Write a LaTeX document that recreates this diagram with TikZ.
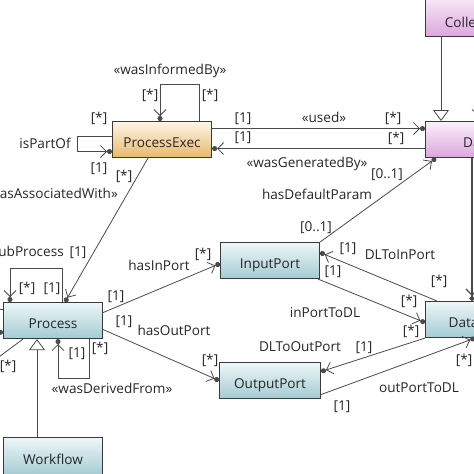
\documentclass[tikz,border=0pt]{standalone}
\usepackage{fontspec}
\setmainfont{Open Sans}
\usetikzlibrary{arrows.meta}

\definecolor{lineg}{HTML}{4A4A4A}
\definecolor{boxline}{HTML}{3A3A3A}
\definecolor{txt}{HTML}{262626}
\definecolor{execTop}{HTML}{FFF6E6}
\definecolor{execBot}{HTML}{E6B86E}
\definecolor{tealTop}{HTML}{EEF7F8}
\definecolor{tealBot}{HTML}{A3CBD3}
\definecolor{vioTop}{HTML}{FBF0FB}
\definecolor{vioBot}{HTML}{DCA6DC}

\begin{document}
\begin{tikzpicture}[x=1pt, y=-1pt,
    font=\fontsize{13.6}{16}\selectfont,
    box/.style={draw=boxline, line width=1.1pt, rectangle, anchor=north west,
      minimum width=99pt, minimum height=36pt, inner sep=0pt, text=txt,
      text height=15pt, text depth=0pt},
    execbox/.style={box, top color=execTop, bottom color=execBot},
    tealbox/.style={box, top color=tealTop, bottom color=tealBot},
    violetbox/.style={box, top color=vioTop, bottom color=vioBot},
    assoc/.style={draw=lineg, line width=0.8pt},
    own/.style={assoc, -{Straight Barb[length=6pt,width=12pt]Circle[length=5pt]}},
    gen/.style={assoc, -{Triangle[length=11pt,width=16pt,fill=white]}},
    lbl/.style={text=txt, inner sep=0pt, text height=9pt, text depth=0pt}]
  \useasboundingbox (0,0) rectangle (474,474);
  \clip (0,0) rectangle (474,474);

  % --- CLASSES ---
  \node[execbox] (pexec) at (112,121) {ProcessExec};
  \node[tealbox] (proc) at (3,302) {Process};
  \node[tealbox, minimum height=38pt] (wflow) at (3,437) {Workflow};
  \node[tealbox] (inport) at (220,242) {InputPort};
  \node[tealbox, minimum width=101pt] (outport) at (219,362) {OutputPort};
  \node[tealbox, minimum width=102pt] (dlink) at (425,301) {DataLink};
  \node[violetbox, minimum width=105pt] (data) at (425,121) {Data};
  \node[violetbox, minimum width=101pt, minimum height=43pt, text height=24pt] (coll) at (425,-7) {Collection};

  % --- ProcessExec relations ---
  \draw[own] ([xshift=87pt]pexec.north west) -- ++(0,-37) -| ([xshift=48pt]pexec.north west);
  \draw[own] ([yshift=3pt]pexec.west) -- ++(-35,0) |- ([yshift=-12pt]pexec.west);
  \draw[own] ([yshift=11pt]pexec.east) -- ([yshift=11pt]data.west);
  \draw[own] ([yshift=-9pt]data.west) -- ([yshift=-9pt]pexec.east);
  \draw[own] ([xshift=36pt]pexec.south west) -- ([xshift=62pt]proc.north west);

  \node[lbl] (tInf) at (170,70) {«wasInformedBy»};
  \node[lbl] (mInfA) at (150,95) {[*]};
  \node[lbl] (mInfB) at (210,95) {[*]};
  \node[lbl] (tPart) at (45,144) {isPartOf};
  \node[lbl] (mPartA) at (99,118) {[*]};
  \node[lbl] (mPartB) at (99,168) {[1]};
  \node[lbl] (tUsed) at (324,118) {«used»};
  \node[lbl] (mUsedA) at (243,118) {[1]};
  \node[lbl] (mUsedB) at (393,118) {[*]};
  \node[lbl] (tGen) at (307,163) {«wasGeneratedBy»};
  \node[lbl] (mGenA) at (243,137) {[1]};
  \node[lbl] (mGenB) at (396,138) {[*]};
  \node[lbl, anchor=east] (tAssoc) at (118,194) {«wasAssociatedWith»};
  \node[lbl] (mAssocA) at (124,176) {[*]};
  \node[lbl] (mAssocB) at (78,252) {[1]};

  % --- Process relations ---
  \draw[own] ([xshift=59pt]proc.north west) -- ++(0,-34) -| ([xshift=7pt]proc.north west);
  \draw[own] ([xshift=86pt]proc.south west) -- ++(0,39) -| ([xshift=55pt]proc.south west);
  \draw[gen] ([xshift=34pt]wflow.north west) -- ([xshift=34pt]proc.south west);
  \draw[own] ([yshift=8pt]proc.east) -- ([yshift=-3pt]inport.west);
  \draw[own] ([yshift=-9pt]proc.east) -- (outport.west);
  % off the left edge
  \coordinate (offA) at (-30,307);
  \coordinate (offB) at (-30,330);
  \coordinate (offC) at (-12,365);
  \draw[assoc] ([yshift=11pt]proc.west) -- (offA);
  \draw[own] (offB) -- ([yshift=-12pt]proc.west);
  \draw[assoc] ([xshift=20pt]proc.south west) -- (offC);

  \node[lbl, anchor=east] (tSub) at (64,252) {subProcess};
  \node[lbl] (mSubA) at (27,288) {[*]};
  \node[lbl] (mSubB) at (52,288) {[1]};
  \node[lbl] (mOff) at (8,366) {[*]};
  \node[lbl] (tDer) at (112,389) {«wasDerivedFrom»};
  \node[lbl] (mDerA) at (77,353) {[1]};
  \node[lbl] (mDerB) at (100,348) {[*]};
  \node[lbl] (tHasIn) at (159,266) {hasInPort};
  \node[lbl] (mHasInA) at (116,296) {[1]};
  \node[lbl] (mHasInB) at (203,254) {[*]};
  \node[lbl] (tHasOut) at (174,331) {hasOutPort};
  \node[lbl] (mHasOutA) at (124,321) {[1]};
  \node[lbl] (mHasOutB) at (210,360) {[*]};

  % --- Port and DataLink relations ---
  \draw[own] (inport.north east) -- ([xshift=11pt]data.south west);
  \draw[own] ([xshift=12pt]dlink.north west) -- ([yshift=8pt]inport.east);
  \draw[own] ([xshift=-2pt]inport.south east) -- ([yshift=-3pt]dlink.west);
  \draw[own] (dlink.south west) -- ([yshift=9pt]outport.east);
  \draw[own] ([yshift=-14pt]outport.east) -- ([xshift=50pt]dlink.south west);

  \node[lbl] (tDef) at (317,195) {hasDefaultParam};
  \node[lbl] (mDefA) at (387,174) {[0..1]};
  \node[lbl] (mDefB) at (316,227) {[0..1]};
  \node[lbl] (tDLIn) at (400,255) {DLToInPort};
  \node[lbl] (mDLInA) at (348,248) {[1]};
  \node[lbl] (mDLInB) at (439,281) {[*]};
  \node[lbl] (tInDL) at (325,313) {inPortToDL};
  \node[lbl] (mInDLA) at (333,271) {[1]};
  \node[lbl] (mInDLB) at (409,301) {[*]};
  \node[lbl] (tDLOut) at (300,347) {DLToOutPort};
  \node[lbl] (mDLOutA) at (364,347) {[1]};
  \node[lbl] (mDLOutB) at (411,331) {[*]};
  \node[lbl] (tOutDL) at (419,388) {outPortToDL};
  \node[lbl] (mOutDLA) at (342,406) {[1]};
  \node[lbl] (mOutDLB) at (464,360) {[*]};

  % --- Data relations ---
  \draw[gen] ([xshift=16pt]coll.south west) -- ([xshift=16pt]data.north west);
  \coordinate (offD) at (478,40);
  \draw[own] (offD) -- ([xshift=53pt]data.north west);
  \draw[own, line width=1.3pt] ([xshift=47pt]data.south west) -- ([xshift=47pt]dlink.north west);
\end{tikzpicture}
\end{document}
